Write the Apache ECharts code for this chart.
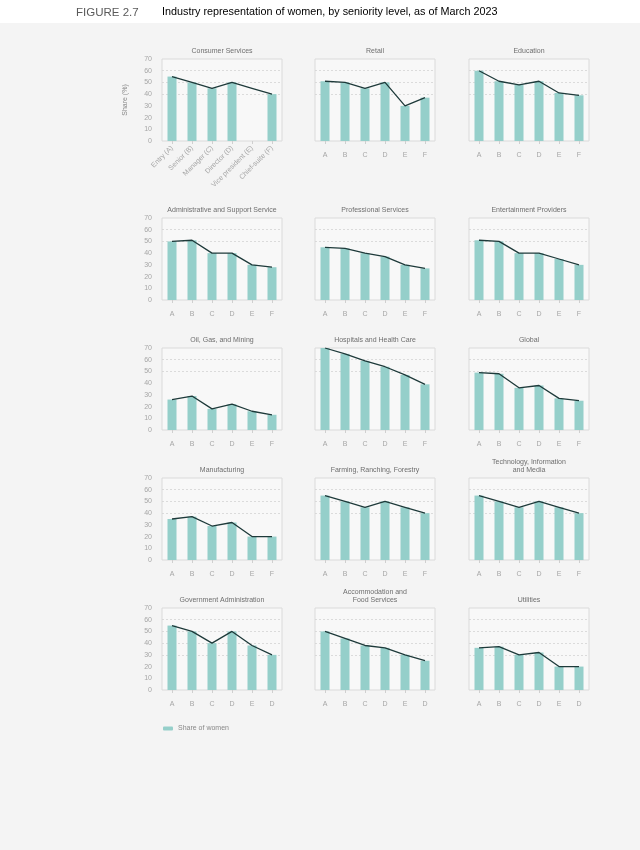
<!DOCTYPE html>
<html>
<head>
<meta charset="utf-8">
<script src="https://cdn.jsdelivr.net/npm/echarts@6/dist/echarts.min.js"></script>
<style>
  html, body { margin: 0; padding: 0; background: #f4f4f4; }
  #chart { width: 640px; height: 850px; }
</style>
</head>
<body>
<div id="chart"></div>
<script>
// seniority levels
const levels = ['A', 'B', 'C', 'D', 'E', 'F'];
const levelsLastRow = ['A', 'B', 'C', 'D', 'E', 'D'];
const levelNames = ['Entry (A)', 'Senior (B)', 'Manager (C)', 'Director (D)', 'Vice president (E)', 'Chief-suite (F)'];
const yTicks = [0, 10, 20, 30, 40, 50, 60, 70];

// share of women (%)
const consumerServices = [55, 50, 45, 50, 45, 40];
const consumerServicesBars = [55, 50, 45, 50, null, 40]; // no bar drawn for E
const retail = [51, 50, 45, 50, 30, 37];
const education = [60, 51, 48, 51, 41, 39];
const adminSupport = [50, 51, 40, 40, 30, 28];
const professionalServices = [45, 44, 40, 37, 30, 27];
const entertainment = [51, 50, 40, 40, 35, 30];
const oilGasMining = [26, 29, 18, 22, 16, 13];
const hospitals = [70, 65, 59, 54, 47, 39];
const globalShare = [49, 48, 36, 38, 27, 25];
const manufacturing = [35, 37, 29, 32, 20, 20];
const farming = [55, 50, 45, 50, 45, 40];
const technology = [55, 50, 45, 50, 45, 40];
const government = [55, 50, 40, 50, 38, 30];
const accommodation = [50, 44, 38, 36, 30, 25];
const utilities = [36, 37, 30, 32, 20, 20];

const panels = [
  { title: 'Consumer Services', line: consumerServices, bars: consumerServicesBars },
  { title: 'Retail', line: retail },
  { title: 'Education', line: education },
  { title: 'Administrative and Support Service', line: adminSupport },
  { title: 'Professional Services', line: professionalServices },
  { title: 'Entertainment Providers', line: entertainment },
  { title: 'Oil, Gas, and Mining', line: oilGasMining },
  { title: 'Hospitals and Health Care', line: hospitals },
  { title: 'Global', line: globalShare },
  { title: 'Manufacturing', line: manufacturing },
  { title: 'Farming, Ranching, Forestry', line: farming },
  { title: 'Technology, Information\nand Media', line: technology },
  { title: 'Government Administration', line: government },
  { title: 'Accommodation and\nFood Services', line: accommodation },
  { title: 'Utilities', line: utilities }
];

// dashed reference lines shown in each row
const rowGridLines = [[40, 50, 60], [50, 60], [50, 60], [40, 50, 60], [30, 40, 50, 60]];

const BAR = '#95cfca';
const LINE = '#1e3a3a';
const FONT = 'Liberation Sans, Helvetica, Arial, sans-serif';
const colLeft = [162, 315, 469];
const rowTop = [59, 218, 348, 478, 608];
const W = 120, H = 82;

const grids = [], xAxes = [], yAxes = [], series = [], graphics = [];

graphics.push({ type: 'rect', shape: { x: 0, y: 0, width: 640, height: 23 }, style: { fill: '#ffffff' }, z: -1 });

panels.forEach((p, i) => {
  const row = Math.floor(i / 3), col = i % 3;
  const left = colLeft[col], top = rowTop[row];
  grids.push({
    left: left, top: top, width: W, height: H,
    show: true, borderColor: '#dadada', borderWidth: 1, backgroundColor: '#f8f8f8'
  });
  const first = i === 0;
  xAxes.push({
    type: 'category', gridIndex: i,
    data: first ? levelNames : (row === 4 ? levelsLastRow : levels),
    axisLine: { show: false },
    axisTick: { show: true, alignWithLabel: true, length: 3, lineStyle: { color: '#cfcfcf' } },
    axisLabel: {
      fontSize: 7, color: '#a6a6a6', fontFamily: FONT, margin: first ? 6 : 11,
      rotate: first ? 45 : 0, interval: 0
    }
  });
  const lines = rowGridLines[row];
  yAxes.push({
    type: 'value', gridIndex: i, min: 0, max: 70, interval: 10,
    name: first ? 'Share (%)' : '', nameLocation: 'middle', nameGap: 33, nameRotate: 90,
    nameTextStyle: { fontSize: 7, color: '#888', fontFamily: FONT },
    axisLine: { show: false }, axisTick: { show: false },
    axisLabel: { show: col === 0, fontSize: 7, color: '#a6a6a6', fontFamily: FONT, margin: 10, padding: [0, 0, 4, 0] },
    splitLine: {
      show: true,
      lineStyle: {
        type: [2, 2], width: 0.8,
        color: yTicks.map(v => lines.includes(v) ? '#d3d3d3' : 'rgba(0,0,0,0)')
      }
    }
  });
  series.push({
    type: 'bar', name: 'Share of women', xAxisIndex: i, yAxisIndex: i,
    data: p.bars || p.line, barWidth: '45%', itemStyle: { color: BAR }, silent: true
  });
  series.push({
    type: 'line', name: 'trend', xAxisIndex: i, yAxisIndex: i,
    data: p.line, symbol: 'none', lineStyle: { color: LINE, width: 1.3 }, z: 3, silent: true
  });
  graphics.push({
    type: 'text', x: left + W / 2, y: top - 4,
    style: {
      text: p.title, align: 'center', verticalAlign: 'bottom',
      fontSize: 7, lineHeight: 8, fontFamily: FONT, fill: '#6e6e6e'
    }
  });
});

const chart = echarts.init(document.getElementById('chart'), null, { renderer: 'canvas' });
chart.setOption({
  backgroundColor: '#f4f4f4',
  animation: false,
  title: [
    { text: 'FIGURE 2.7', left: 71, top: 2, textStyle: { fontSize: 11.5, color: '#5a5a5a', fontWeight: 'normal', fontFamily: FONT } },
    {
      text: 'Industry representation of women, by seniority level, as of March 2023', left: 157, top: 2,
      textStyle: { fontSize: 10.8, color: '#000', fontWeight: 'normal', fontFamily: FONT }
    }
  ],
  legend: {
    data: ['Share of women'], left: 158, top: 720, icon: 'roundRect',
    itemWidth: 10, itemHeight: 4, itemGap: 6,
    textStyle: { fontSize: 7, color: '#888', fontFamily: FONT }
  },
  grid: grids,
  xAxis: xAxes,
  yAxis: yAxes,
  series: series,
  graphic: graphics
});
</script>
</body>
</html>
